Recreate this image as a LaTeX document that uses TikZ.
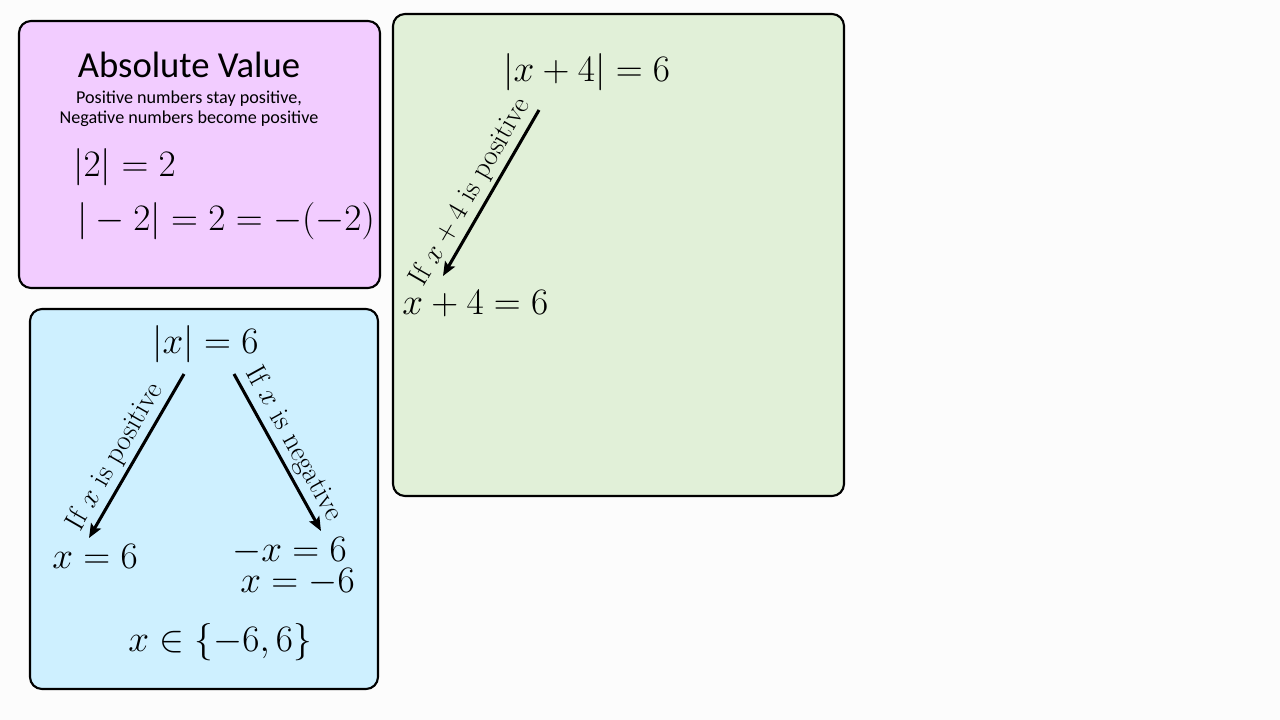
\documentclass[tikz,border=0pt]{standalone}
\usepackage{fontspec}
\setmainfont{Latin Modern Roman}
\newfontfamily\gill{Carlito}
\usetikzlibrary{arrows.meta}
\definecolor{bgc}{RGB}{252,252,252}
\definecolor{pinkc}{RGB}{242,204,255}
\definecolor{bluec}{RGB}{206,240,255}
\definecolor{greenc}{RGB}{225,240,216}
\tikzset{
  panel/.style={draw=black, line width=1.6pt, rounded corners=9pt},
  eq/.style={inner sep=0pt, scale=1.1254, font=\fontsize{24.88}{30}\selectfont},
  lbl/.style={inner sep=2.5pt, scale=1.04, font=\fontsize{20.74}{25}\selectfont},
  conn/.style={line width=2.3pt, -{Stealth[length=10.5pt,width=8.5pt,inset=2pt]}},
}
\begin{document}
\begin{tikzpicture}[x=0.75pt,y=-0.75pt]
\useasboundingbox (0,0) rectangle (1280,720);
\fill[bgc] (0,0) rectangle (1280,720);
% panels
\draw[panel, fill=pinkc] (19,21) rectangle (380,288);
\draw[panel, fill=bluec] (30,309) rectangle (378,689);
\draw[panel, fill=greenc] (393,14) rectangle (844,496);
% pink panel
\node[inner sep=0pt, anchor=base, font=\gill\fontsize{27.5}{30}\selectfont] (title) at (189,78) {Absolute Value};
\node[inner sep=0pt, anchor=base, font=\gill\fontsize{13.6}{15}\selectfont] (sub1) at (189,104) {Positive numbers stay positive,};
\node[inner sep=0pt, anchor=base, font=\gill\fontsize{13.6}{15}\selectfont] (sub2) at (189,124) {Negative numbers become positive};
\node[eq, anchor=base west] (ex1) at (73,177) {$|2| = 2$};
\node[eq, anchor=base west] (ex2) at (77,230) {$|-2| = 2 = -(-2)$};
% blue panel
\node[eq, anchor=base west] (absx) at (152,353) {$|x| = 6$};
\node[eq, anchor=base west] (pos) at (52,568) {$x = 6$};
\node[eq, anchor=base west] (neg1) at (232,561) {$-x = 6$};
\node[eq, anchor=base west] (neg2) at (240,592) {$x = -6$};
\node[eq, anchor=base west] (sol) at (128,651) {$x \in \{-6, 6\}$};
\coordinate (a1s) at (184,374);
\coordinate (a1e) at (89,538);
\coordinate (a2s) at (234,374);
\coordinate (a2e) at (321,531);
\draw[conn] (a1s) -- (a1e) node[lbl, pos=0.56, sloped, above] {If $x$ is positive};
\draw[conn] (a2s) -- (a2e) node[lbl, pos=0.5, sloped, above] {If $x$ is negative};
% green panel
\node[eq, anchor=base west] (absx4) at (503,82) {$|x + 4| = 6$};
\node[eq, anchor=base west] (pos4) at (402,314) {$x + 4 = 6$};
\coordinate (a3s) at (539,110);
\coordinate (a3e) at (443,276);
\draw[conn] (a3s) -- (a3e) node[lbl, pos=0.55, sloped, above] {If $x+4$ is positive};
\end{tikzpicture}
\end{document}
